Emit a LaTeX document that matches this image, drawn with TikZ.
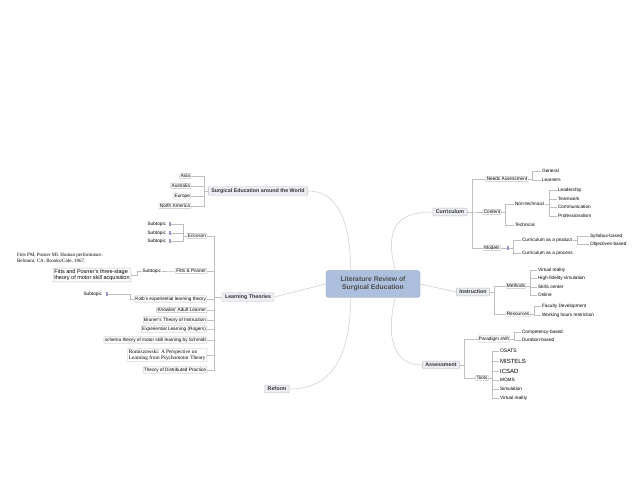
\documentclass[tikz,border=0pt]{standalone}
\usepackage{fontspec}
\setmainfont{Liberation Sans}
\newfontfamily\serf{Liberation Serif}
\definecolor{cfill}{RGB}{172,192,222}
\definecolor{mfill}{RGB}{236,238,244}
\begin{document}
\begin{tikzpicture}[x=1pt,y=-1pt,
 leaf/.style={draw=black!25,fill=white,rounded corners=0.6pt,inner sep=0.9pt,font=\fontsize{4.7}{5.2}\selectfont},
 plain/.style={inner sep=0.9pt,font=\fontsize{4.7}{5.2}\selectfont},
 main/.style={draw=black!25,fill=mfill,rounded corners=1pt,inner xsep=3pt,inner ysep=2pt,font=\fontsize{5.3}{6}\selectfont\bfseries,text=black!80},
 conn/.style={draw=black!25,line width=0.4pt},
 curve/.style={draw=black!20,line width=0.5pt},
 ico/.style={fill=blue!50!black!40,minimum width=1.3pt,minimum height=4pt,inner sep=0pt}]
\useasboundingbox[fill=white] (0,0) rectangle (638,478);
\newcommand\lk[2]{\draw[conn] (#1.west) -- ++(-4,0) |- (#2.east);}
\newcommand\rk[2]{\draw[conn] (#1.east) -- ++(4,0) |- (#2.west);}
% central
\node[draw=cfill!80!black,fill=cfill,rounded corners=3pt,minimum width=94pt,minimum height=27pt,align=center,font=\fontsize{6.8}{7.8}\selectfont\bfseries,text=black!70] (c) at (373,284) {Literature Review of\\Surgical Education};
% main
\node[main] (sew) at (258,191) {Surgical Education around the World};
\node[main] (lt) at (248,297) {Learning Theories};
\node[main] (ref) at (277,389) {Reform};
\node[main] (cur) at (450,212) {Curriculum};
\node[main] (ins) at (473,292) {Instruction};
\node[main] (ass) at (441,365) {Assessment};
\draw[curve] (c.north west) ++(25,0) .. controls (350,215) and (335,191) .. (sew.east);
\draw[curve] (c.west) -- (lt.east);
\draw[curve] (c.south west) ++(25,0) .. controls (350,360) and (330,389) .. (ref.east);
\draw[curve] (c.north east) ++(-25,0) .. controls (385,230) and (395,212) .. (cur.west);
\draw[curve] (c.east) -- (ins.west);
\draw[curve] (c.south east) ++(-25,0) .. controls (385,340) and (395,365) .. (ass.west);
% world
\node[leaf,anchor=east] (asia) at (191,176) {Asia};
\node[leaf,anchor=east] (aus) at (191,186) {Australia};
\node[leaf,anchor=east] (eur) at (191,196) {Europe};
\node[leaf,anchor=east] (na) at (191,206) {North America};
\foreach \n in {asia,aus,eur,na} {\lk{sew}{\n}}
% learning theories
\node[leaf,anchor=east] (eri) at (207,236) {Ericsson};
\node[leaf,anchor=east] (fp) at (207,271) {Fitts \& Posner};
\node[leaf,anchor=east] (kolb) at (207,299) {Kolb's experiential learning theory};
\node[leaf,anchor=east] (kn) at (207,310) {Knowles' Adult Learner};
\node[leaf,anchor=east] (br) at (207,320) {Bruner's Theory of Instruction};
\node[leaf,anchor=east] (rog) at (207,329) {Experiential Learning (Rogers)};
\node[leaf,anchor=east] (sch) at (207,340) {schema theory of motor skill learning by Schmidt};
\node[leaf,anchor=east,align=left,font=\serf\fontsize{5.3}{6.3}\selectfont,inner sep=1.2pt] (rom) at (207,355) {Romiszowski: A Perspective on\\Learning from Psychomotor Theory};
\node[leaf,anchor=east] (tdp) at (207,370) {Theory of Distributed Practice};
\foreach \n in {eri,fp,kolb,kn,br,rog,sch,rom,tdp} {\draw[conn] (lt.west) -- ++(-8,0) |- (\n.east);}
\foreach \i/\y in {1/224,2/233,3/241} {
 \node[plain,anchor=east] (s\i) at (167,\y) {Subtopic};
 \node[ico] (si\i) at (170,\y) {};
 \lk{eri}{si\i}}
\node[plain,anchor=east] (sfp) at (162,271) {Subtopic};
\lk{fp}{sfp}
\node[leaf,anchor=east,align=left,font=\fontsize{5.5}{6.3}\selectfont,inner sep=1.2pt] (fpt) at (131,275) {Fitts and Posner's three-stage\\theory of motor skill acquisition};
\lk{sfp}{fpt}
\node[plain,anchor=west,align=left,font=\serf\fontsize{5}{5.8}\selectfont] (fpr) at (16,258) {Fitts PM, Posner MI. Human performance.\\Belmont, CA: Brooks/Cole, 1967.};
\node[plain,anchor=east] (skolb) at (103,294) {Subtopic};
\node[ico] (sik) at (107,294) {};
\lk{kolb}{sik}
% curriculum
\node[leaf] (na2) at (507,179) {Needs Assessment};
\node[leaf] (con) at (492,212) {Content};
\node[leaf] (mod) at (492,248) {Models};
\foreach \n in {na2,con,mod} {\draw[conn] (cur.east) -- ++(5,0) |- (\n.west);}
\node[plain,anchor=west] (gen) at (541,171) {General};
\node[plain,anchor=west] (lea) at (541,180) {Learners};
\rk{na2}{gen}\rk{na2}{lea}
\node[plain,anchor=west] (nt) at (514,204) {Non-technical};
\node[plain,anchor=west] (tec) at (514,225) {Technical};
\rk{con}{nt}\rk{con}{tec}
\foreach \t/\y [count=\i] in {Leadership/190,Teamwork/199,Communication/207,Professionalism/216} {
 \node[plain,anchor=west] (nt\i) at (557,\y) {\t}; \rk{nt}{nt\i}}
\node[ico] (mi) at (508,248) {};
\draw[conn] (mod.east) -- (mi);
\node[plain,anchor=west] (cp) at (521,240) {Curriculum as a product};
\node[plain,anchor=west] (cpr) at (521,253) {Curriculum as a process};
\rk{mi}{cp}\rk{mi}{cpr}
\node[plain,anchor=west] (syl) at (589,236) {Syllabus-based};
\node[plain,anchor=west] (obj) at (589,244) {Objectives-based};
\rk{cp}{syl}\rk{cp}{obj}
% instruction
\node[leaf] (met) at (516,286) {Methods};
\node[leaf] (res) at (518,314) {Resources};
\foreach \n in {met,res} {\draw[conn] (ins.east) -- ++(4,0) |- (\n.west);}
\foreach \t/\y [count=\i] in {Virtual reality/270,High-fidelity simulation/278,Skills center/287,Online/295} {
 \node[plain,anchor=west] (m\i) at (537,\y) {\t}; \rk{met}{m\i}}
\node[plain,anchor=west] (fd) at (541,306) {Faculty Development};
\node[plain,anchor=west] (wh) at (541,315) {Working hours restriction};
\rk{res}{fd}\rk{res}{wh}
% assessment
\node[leaf] (ps) at (494,339) {Paradigm shift};
\node[leaf] (tools) at (482,378) {Tools};
\foreach \n in {ps,tools} {\draw[conn] (ass.east) -- ++(4,0) |- (\n.west);}
\node[plain,anchor=west] (cb) at (521,332) {Competency-based};
\node[plain,anchor=west] (db) at (521,340) {Duration-based};
\rk{ps}{cb}\rk{ps}{db}
\foreach \t/\y/\f [count=\i] in {OSATS/351/5,MISTELS/361/6,ICSAD/371/6,MOMS/380/4.7,Simulation/389/4.7,Virtual reality/398/4.7} {
 \node[plain,anchor=west,font=\fontsize{\f}{\f}\selectfont] (t\i) at (499,\y) {\t}; \rk{tools}{t\i}}
\end{tikzpicture}
\end{document}
